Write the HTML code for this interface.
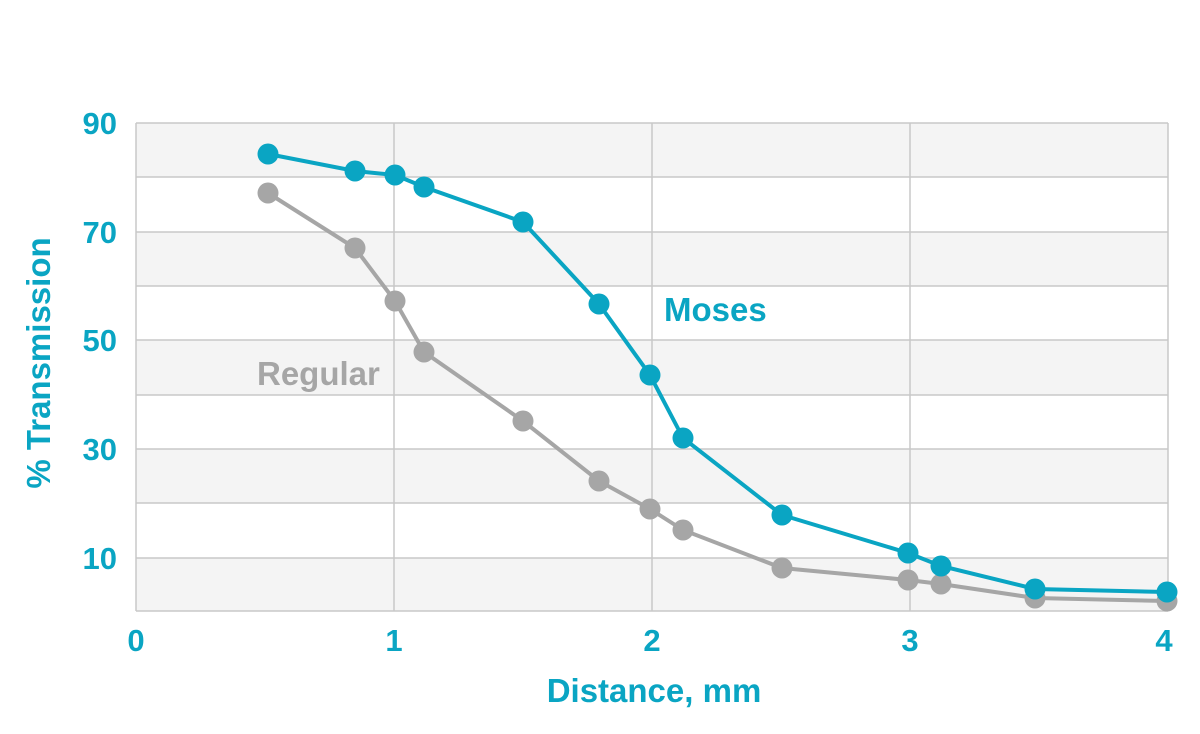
<!DOCTYPE html><html><head><style>body{margin:0;background:#fff}</style></head><body>
<svg width="1200" height="729" xmlns="http://www.w3.org/2000/svg" font-family="Liberation Sans, Arial, sans-serif" font-weight="bold">
<g fill="#f4f4f4"><rect x="136" y="123" width="1032" height="54"/><rect x="136" y="232" width="1032" height="54"/><rect x="136" y="340" width="1032" height="55"/><rect x="136" y="449" width="1032" height="54"/><rect x="136" y="558" width="1032" height="53"/></g>
<g stroke="#c8c8c8" stroke-width="1.5" fill="none">
<path d="M136 123H1168M136 177H1168M136 232H1168M136 286H1168M136 340H1168M136 395H1168M136 449H1168M136 503H1168M136 558H1168M136 611H1168"/>
<path d="M136 123V611M394 123V611M652 123V611M910 123V611M1168 123V611"/></g>
<g fill="#0aa5c3" font-size="31">
<text x="117" y="134" text-anchor="end">90</text><text x="117" y="243" text-anchor="end">70</text><text x="117" y="351" text-anchor="end">50</text><text x="117" y="460" text-anchor="end">30</text><text x="117" y="569" text-anchor="end">10</text>
<text x="136" y="651" text-anchor="middle">0</text><text x="394" y="651" text-anchor="middle">1</text><text x="652" y="651" text-anchor="middle">2</text><text x="910" y="651" text-anchor="middle">3</text><text x="1164" y="651" text-anchor="middle">4</text>
<text x="654" y="702" text-anchor="middle" font-size="33">Distance, mm</text>
<text transform="translate(50,363) rotate(-90)" text-anchor="middle" font-size="33">% Transmission</text>
<text x="664" y="321" font-size="33">Moses</text></g>
<text x="257" y="385" font-size="33" fill="#a6a6a6">Regular</text>
<g stroke="#a6a6a6" stroke-width="4" fill="none"><polyline points="268,193 355,248 395,301 424,352 523,421 599,481 650,509 683,530 782,568 908,580 941,584 1035,598 1167,601"/></g>
<g fill="#a6a6a6"><circle cx="268" cy="193" r="10.5"/><circle cx="355" cy="248" r="10.5"/><circle cx="395" cy="301" r="10.5"/><circle cx="424" cy="352" r="10.5"/><circle cx="523" cy="421" r="10.5"/><circle cx="599" cy="481" r="10.5"/><circle cx="650" cy="509" r="10.5"/><circle cx="683" cy="530" r="10.5"/><circle cx="782" cy="568" r="10.5"/><circle cx="908" cy="580" r="10.5"/><circle cx="941" cy="584" r="10.5"/><circle cx="1035" cy="598" r="10.5"/><circle cx="1167" cy="601" r="10.5"/></g>
<g stroke="#0aa5c3" stroke-width="4" fill="none"><polyline points="268,154 355,171 395,175 424,187 523,222 599,304 650,375 683,438 782,515 908,553 941,566 1035,589 1167,592"/></g>
<g fill="#0aa5c3"><circle cx="268" cy="154" r="10.5"/><circle cx="355" cy="171" r="10.5"/><circle cx="395" cy="175" r="10.5"/><circle cx="424" cy="187" r="10.5"/><circle cx="523" cy="222" r="10.5"/><circle cx="599" cy="304" r="10.5"/><circle cx="650" cy="375" r="10.5"/><circle cx="683" cy="438" r="10.5"/><circle cx="782" cy="515" r="10.5"/><circle cx="908" cy="553" r="10.5"/><circle cx="941" cy="566" r="10.5"/><circle cx="1035" cy="589" r="10.5"/><circle cx="1167" cy="592" r="10.5"/></g>
</svg></body></html>
